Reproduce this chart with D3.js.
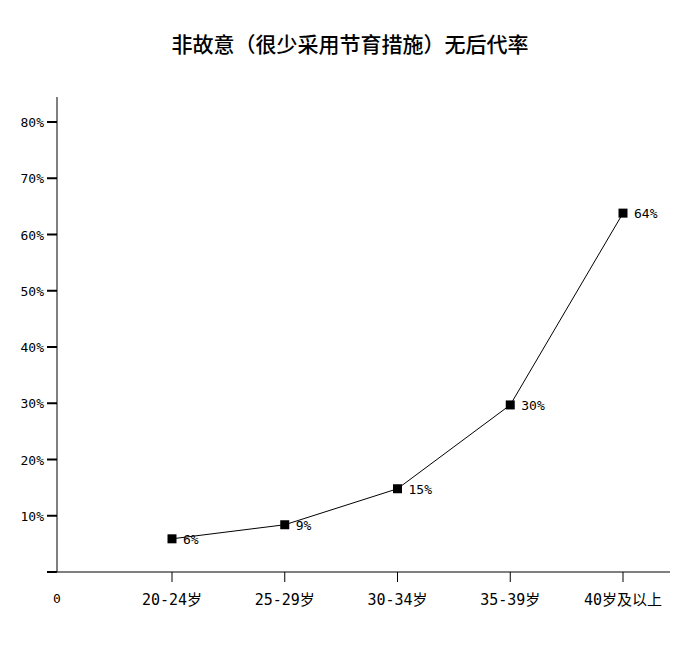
<!DOCTYPE html>
<html><head><meta charset="utf-8">
<script src="https://cdn.jsdelivr.net/npm/d3@7"></script>
<style>body{margin:0;background:#fff}text{font-family:"DejaVu Sans Mono","Noto Sans CJK SC",monospace}</style>
</head><body><svg id="c" width="687" height="652"></svg>
<script>
const categories = ["20-24岁", "25-29岁", "30-34岁", "35-39岁", "40岁及以上"];
const values = [5.9, 8.4, 14.8, 29.7, 63.8];
const pointLabels = ["6%", "9%", "15%", "30%", "64%"];
const yTicks = [0, 10, 20, 30, 40, 50, 60, 70, 80];

const svg = d3.select("#c");
const y = d3.scaleLinear().domain([0, 80]).range([572, 122]);
const x = d3.scalePoint().domain(categories).range([172, 623]);

svg.append("text").attr("x", 350).attr("y", 52).attr("text-anchor", "middle")
  .attr("font-size", 21).attr("font-weight", 500).style("font-family", "'Noto Sans CJK SC'").text("非故意（很少采用节育措施）无后代率");

// axes
svg.append("line").attr("x1", 57).attr("x2", 57).attr("y1", 97).attr("y2", 572).attr("stroke", "#000");
svg.append("line").attr("x1", 47).attr("x2", 670).attr("y1", 572).attr("y2", 572).attr("stroke", "#000");

yTicks.forEach(t => {
  svg.append("line").attr("x1", 47).attr("x2", 57).attr("y1", y(t)).attr("y2", y(t)).attr("stroke", "#000").attr("stroke-width", 2);
  if (t > 0) svg.append("text").attr("x", 44).attr("y", y(t) + 5).attr("text-anchor", "end")
    .attr("font-size", 13).text(t + "%");
});
svg.append("text").attr("x", 57).attr("y", 603).attr("text-anchor", "middle").attr("font-size", 13).text("0");

categories.forEach(c => {
  svg.append("line").attr("x1", x(c)).attr("x2", x(c)).attr("y1", 572).attr("y2", 582).attr("stroke", "#000");
  svg.append("text").attr("x", x(c)).attr("y", 605).attr("text-anchor", "middle")
    .attr("font-size", 15).text(c);
});

const pts = categories.map((c, i) => [x(c), y(values[i])]);
svg.append("path").attr("d", d3.line()(pts)).attr("fill", "none").attr("stroke", "#000").attr("stroke-width", 1);
pts.forEach((p, i) => {
  svg.append("rect").attr("x", p[0] - 4.5).attr("y", p[1] - 4.5).attr("width", 9).attr("height", 9).attr("fill", "#000");
  svg.append("text").attr("x", p[0] + 11).attr("y", p[1] + 5).attr("font-size", 13).text(pointLabels[i]);
});
</script></body></html>
